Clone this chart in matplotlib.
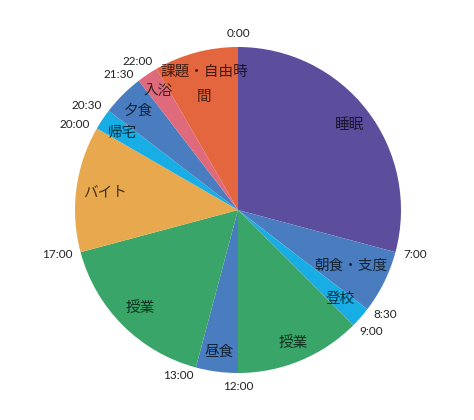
import numpy as np
import matplotlib
matplotlib.use("Agg")
import matplotlib.pyplot as plt

plt.rcParams['font.family'] = ['Noto Sans CJK JP', 'DejaVu Sans']

activities = ['睡眠', '朝食・支度', '登校', '授業', '昼食', '授業', 'バイト',
              '帰宅', '夕食', '入浴', '課題・自由時\n間']
hours = [7, 1.5, 0.5, 3, 1, 4, 3, 0.5, 1, 0.5, 2]
start_times = ['0:00', '7:00', '8:30', '9:00', '12:00', '13:00', '17:00',
               '20:00', '20:30', '21:30', '22:00']

colors = ['#5D4D9D', '#4A7DC0', '#18ADE4', '#3AA568', '#4A7DC0', '#3AA568',
          '#E8A94E', '#18ADE4', '#4A7DC0', '#DF6A7C', '#E4663F']
label_r = [0.86, 0.77, 0.83, 0.88, 0.88, 0.85, 0.82, 0.85, 0.86, 0.88, 0.80]

W, H = 474, 420
R_px = 163.0
cx_px, cy_px = 238.0, 210.0
line_step_pt = 18.0

fig = plt.figure(figsize=(W / 100, H / 100), dpi=100)
ax = fig.add_axes([0, 0, 1, 1])
wedges, _ = ax.pie(hours, colors=colors, startangle=90, counterclock=False,
                   radius=1.0, wedgeprops=dict(linewidth=0))

total = sum(hours)
cum = np.concatenate([[0], np.cumsum(hours)])
for i, (lab, h) in enumerate(zip(activities, hours)):
    mid = (cum[i] + h / 2) / total * 2 * np.pi
    r = label_r[i]
    x, y = r * np.sin(mid), r * np.cos(mid)
    lines = lab.split('\n')
    n = len(lines)
    for k, ln in enumerate(lines):
        dy = ((n - 1) / 2 - k) * line_step_pt
        ax.annotate(ln, (x, y), xytext=(0, dy), textcoords='offset points',
                    ha='center', va='center', fontsize=10.5,
                    color='black', alpha=0.72)

rt = 1.05
for i, t in enumerate(start_times):
    ang = cum[i] / total * 2 * np.pi
    x, y = rt * np.sin(ang), rt * np.cos(ang)
    s = np.sin(ang)
    c = np.cos(ang)
    if abs(s) < 1e-6:
        ha = 'center'
        va = 'bottom' if c > 0 else 'top'
    else:
        ha = 'left' if s > 0 else 'right'
        va = 'center'
    ax.text(x, y, t, ha=ha, va=va, fontsize=8.5, family=['Lato', 'DejaVu Sans'],
            color='#222222')

ax.set_xlim(-cx_px / R_px, (W - cx_px) / R_px)
ax.set_ylim(-(H - cy_px) / R_px, cy_px / R_px)
ax.set_aspect('equal', adjustable='box')
ax.axis('off')

fig.savefig('out.png', dpi=100, facecolor='white')
